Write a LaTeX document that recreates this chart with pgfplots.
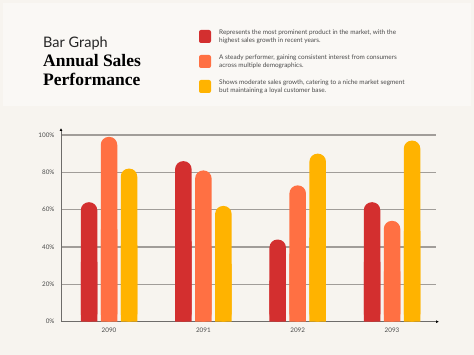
\documentclass[border=0pt]{standalone}
\usepackage{pgfplots}
\usepackage{pgfplotstable}
\pgfplotsset{compat=1.18}
\usepackage{fontspec}
\setmainfont{Lato}
\newfontfamily\titlefont{Liberation Serif}
\usetikzlibrary{arrows.meta}
\definecolor{bgmain}{HTML}{F7F4EF}
\definecolor{bghead}{HTML}{FAF8F5}
\definecolor{cred}{HTML}{D32F2F}
\definecolor{corange}{HTML}{FF7043}
\definecolor{cyellow}{HTML}{FFB300}
\definecolor{gridc}{HTML}{A19D99}
\definecolor{axisc}{HTML}{6E6C6A}
\definecolor{txt}{HTML}{4A4A4A}
\pgfplotstableread{
x red orange yellow
0 64 99 82
1 86 81 62
2 44 73 90
3 64 54 97
}\datatable
\begin{document}
\begin{tikzpicture}[x=1pt,y=1pt]
\fill[bgmain] (0,0) rectangle (474,355);
\fill[bghead] (3,249) rectangle (471,352);
% title
\node[anchor=base west,inner sep=0,font=\fontsize{14.5}{16}\selectfont,text=black!85] at (43,307) {Bar Graph};
\node[anchor=base west,inner sep=0,font=\titlefont\bfseries\fontsize{17.5}{20}\selectfont] at (43,288) {Annual Sales};
\node[anchor=base west,inner sep=0,font=\titlefont\bfseries\fontsize{17.5}{20}\selectfont] at (43,269) {Performance};
% legend
\fill[cred,rounded corners=2pt] (199,312) rectangle (211,325);
\fill[corange,rounded corners=2pt] (199,287) rectangle (211,300);
\fill[cyellow,rounded corners=2pt] (199,262) rectangle (211,275);
\begin{scope}[every node/.style={anchor=base west,inner sep=0,font=\fontsize{6.4}{7}\selectfont,text=txt}]
\node at (219,320) {Represents the most prominent product in the market, with the};
\node at (219,312) {highest sales growth in recent years.};
\node at (219,295) {A steady performer, gaining consistent interest from consumers};
\node at (219,287) {across multiple demographics.};
\node at (219,270.5) {Shows moderate sales growth, catering to a niche market segment};
\node at (219,262.5) {but maintaining a loyal customer base.};
\end{scope}
\begin{axis}[
  at={(61pt,33.3pt)}, anchor=south west,
  scale only axis, width=375pt, height=186.7pt,
  xmin=-0.509, xmax=3.466, ymin=0, ymax=100,
  ybar, bar width=16.5pt,
  axis lines=left,
  x axis line style={draw=axisc,line width=1pt,-{Latex[length=3pt,width=3pt,color=black]},shorten >=-3pt},
  y axis line style={draw=axisc,line width=1pt,-{Latex[length=3pt,width=3pt,color=black]},shorten >=-7pt},
  xtick={0,1,2,3}, xticklabels={2090,2091,2092,2093},
  ytick={0,20,40,60,80,100},
  yticklabels={0\%,20\%,40\%,60\%,80\%,100\%},
  major tick length=0pt,
  ymajorgrids, grid style={draw=gridc,line width=1.1pt},
  tick label style={font=\fontsize{6.3}{7}\selectfont,text=txt},
  yticklabel style={xshift=-3pt},
  xticklabel style={yshift=-3pt},
  /pgf/number format/assume math mode=true,
  axis on top=false,
]
\addplot[draw=none,fill=cred,rounded corners=8pt,bar shift=-20pt] table[x=x,y=red]{\datatable};
\addplot[draw=none,fill=cred,bar shift=-20pt] table[x=x,y expr=\thisrow{red}/2]{\datatable};
\addplot[draw=none,fill=corange,rounded corners=8pt,bar shift=0pt] table[x=x,y=orange]{\datatable};
\addplot[draw=none,fill=corange,bar shift=0pt] table[x=x,y expr=\thisrow{orange}/2]{\datatable};
\addplot[draw=none,fill=cyellow,rounded corners=8pt,bar shift=20pt] table[x=x,y=yellow]{\datatable};
\addplot[draw=none,fill=cyellow,bar shift=20pt] table[x=x,y expr=\thisrow{yellow}/2]{\datatable};
\end{axis}
\end{tikzpicture}
\end{document}
